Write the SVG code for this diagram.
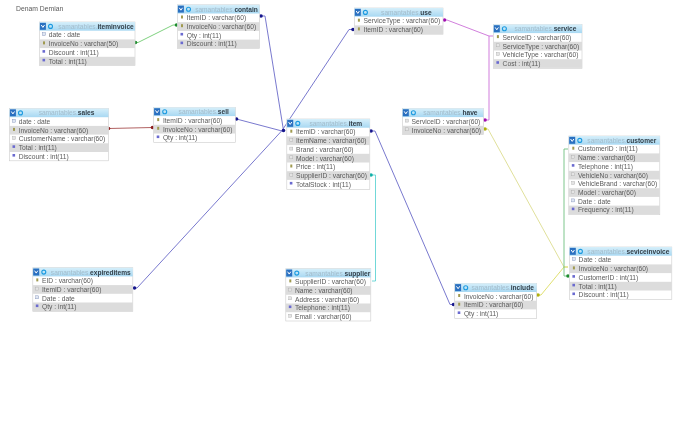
<svg xmlns="http://www.w3.org/2000/svg" xmlns:xlink="http://www.w3.org/1999/xlink" width="680" height="436" viewBox="0 0 680 436">
<style>
text{font-family:"Liberation Sans",Arial,sans-serif;font-size:6.7px;fill:#5a5a5a;transform:translateY(.4px)}
.box{fill:#fff;stroke:#ccc;stroke-width:.6}
.alt{fill:#dcdcdc}
.hd{fill:url(#hg)}
.tt{text-anchor:middle;font-size:6.6px;fill:#a3bccb;transform:translate(1px,.3px)}
.tt tspan{font-weight:bold;fill:#33404a}
.c{fill:none;stroke-width:.9}
.k{fill:#a09a50}.v{fill:#e4e4e4;stroke:#aaa;stroke-width:.4}.i{fill:#6a6ad0}.d{fill:#dfe6f2;stroke:#7a8bb5;stroke-width:.4}
.t1{fill:#2a6fc0}.t2{fill:none;stroke:#1e9be0;stroke-width:1.1}
</style>
<defs>
<linearGradient id="hg" x1="0" y1="0" x2="0" y2="1"><stop offset="0" stop-color="#d6effa"/><stop offset="1" stop-color="#a8d8f2"/></linearGradient>
<filter id="soft" x="0" y="0" width="680" height="436" filterUnits="userSpaceOnUse" primitiveUnits="userSpaceOnUse"><feGaussianBlur stdDeviation=".28"/></filter>
<marker id="mB" markerWidth="5" markerHeight="5" refX="2.500" refY="2.500" markerUnits="userSpaceOnUse"><circle cx="2.500" cy="2.500" r="1.800" fill="#16168c"/></marker>
<marker id="mG" markerWidth="5" markerHeight="5" refX="2.500" refY="2.500" markerUnits="userSpaceOnUse"><circle cx="2.500" cy="2.500" r="1.800" fill="#1e8c2e"/></marker>
<marker id="mR" markerWidth="5" markerHeight="5" refX="2.500" refY="2.500" markerUnits="userSpaceOnUse"><circle cx="2.500" cy="2.500" r="1.800" fill="#8c1e1e"/></marker>
<marker id="mP" markerWidth="5" markerHeight="5" refX="2.500" refY="2.500" markerUnits="userSpaceOnUse"><circle cx="2.500" cy="2.500" r="1.800" fill="#a010b0"/></marker>
<marker id="mY" markerWidth="5" markerHeight="5" refX="2.500" refY="2.500" markerUnits="userSpaceOnUse"><circle cx="2.500" cy="2.500" r="1.800" fill="#b0b010"/></marker>
<marker id="mC" markerWidth="5" markerHeight="5" refX="2.500" refY="2.500" markerUnits="userSpaceOnUse"><circle cx="2.500" cy="2.500" r="1.800" fill="#10b0a8"/></marker>
<g id="hi"><rect x=".4" y=".8" width="6" height="7" class="t1"/><path d="M1.800 3l1.600 2.400L5 3" fill="none" stroke="#fff" stroke-width="1"/><circle cx="11" cy="4.400" r="2" class="t2"/></g>
<rect id="ik" width="2" height="3" class="k"/>
<rect id="iv" width="3" height="3" class="v"/>
<rect id="ii" width="2.600" height="2.600" class="i"/>
<rect id="id" width="3" height="3" class="d"/>
</defs>
<g filter="url(#soft)">
<text x="16" y="10.600" style="font-size:6.800px">Denam Demian</text>
<g id="connectors">
<path class="c" stroke="#70cc70" marker-start="url(#mG)" marker-end="url(#mG)" d="M135.500 42.500H138L173 25H176.500"/>
<path class="c" stroke="#6a6ac8" marker-start="url(#mB)" d="M261 16H265L283.500 130.500H282"/>
<path class="c" stroke="#6a6ac8" marker-start="url(#mB)" d="M236.500 119L282 131"/>
<path class="c" stroke="#6a6ac8" marker-end="url(#mB)" d="M282 130.500L349 29.500H353"/>
<path class="c" stroke="#6a6ac8" marker-start="url(#mB)" marker-end="url(#mB)" d="M134.500 288H137L282 130.500H283.500"/>
<path class="c" stroke="#a85050" marker-start="url(#mR)" marker-end="url(#mR)" d="M108.500 128.500L152.500 127.500"/>
<path class="c" stroke="#cc70d8" marker-start="url(#mP)" d="M444.500 20H447L489 36H493"/>
<path class="c" stroke="#cc70d8" marker-start="url(#mP)" d="M485 120H489V36"/>
<path class="c" stroke="#dcdc90" marker-start="url(#mY)" d="M485 129H488L564 267H568"/>
<path class="c" stroke="#dcdc60" marker-start="url(#mY)" d="M538 295H541L564 267H568"/>
<path class="c" stroke="#70c080" marker-end="url(#mG)" d="M568 149H564V276H568"/>
<path class="c" stroke="#60d4d4" marker-start="url(#mC)" d="M371 175H375.500V281H372"/>
<path class="c" stroke="#6a6ac8" marker-start="url(#mB)" marker-end="url(#mB)" d="M371 131H375L450 304.500H453.500"/>
</g>

<g id="iteminvoice" transform="translate(39.500 22)">
<rect class="box" width="95.500" height="43.600"/><rect class="hd" width="95.500" height="8.700"/><use xlink:href="#hi"/>
<rect class="alt" y="17.400" width="95.500" height="8.700"/><rect class="alt" y="34.800" width="95.500" height="8.700"/>
<text class="tt" x="55.500" y="6.600">samantables.<tspan>iteminvoice</tspan></text>
<use xlink:href="#id" x="3" y="10.700"/><text x="9.200" y="15.100">date : date</text>
<use xlink:href="#ik" x="3.500" y="19.400"/><text x="9.200" y="23.800">InvoiceNo : varchar(50)</text>
<use xlink:href="#ii" x="3" y="28.100"/><text x="9.200" y="32.500">Discount : int(11)</text>
<use xlink:href="#ii" x="3" y="36.800"/><text x="9.200" y="41.200">Total : int(11)</text>
</g>

<g id="contain" transform="translate(177.500 4.800)">
<rect class="box" width="82" height="43.600"/><rect class="hd" width="82" height="8.700"/><use xlink:href="#hi"/>
<rect class="alt" y="17.400" width="82" height="8.700"/><rect class="alt" y="34.800" width="82" height="8.700"/>
<text class="tt" x="48" y="6.600">samantables.<tspan>contain</tspan></text>
<use xlink:href="#ik" x="3.500" y="10.700"/><text x="9.200" y="15.100">ItemID : varchar(60)</text>
<use xlink:href="#ik" x="3.500" y="19.400"/><text x="9.200" y="23.800">InvoiceNo : varchar(60)</text>
<use xlink:href="#ii" x="3" y="28.100"/><text x="9.200" y="32.500">Qty : int(11)</text>
<use xlink:href="#ii" x="3" y="36.800"/><text x="9.200" y="41.200">Discount : int(11)</text>
</g>

<g id="sales" transform="translate(9.500 108.500)">
<rect class="box" width="99" height="52.300"/><rect class="hd" width="99" height="8.700"/><use xlink:href="#hi"/>
<rect class="alt" y="17.400" width="99" height="8.700"/><rect class="alt" y="34.800" width="99" height="8.700"/>
<text class="tt" x="56" y="6.600">samantables.<tspan>sales</tspan></text>
<use xlink:href="#id" x="3" y="10.700"/><text x="9.200" y="15.100">date : date</text>
<use xlink:href="#ik" x="3.500" y="19.400"/><text x="9.200" y="23.800">InvoiceNo : varchar(60)</text>
<use xlink:href="#iv" x="3" y="28.100"/><text x="9.200" y="32.500">CustomerName : varchar(60)</text>
<use xlink:href="#ii" x="3" y="36.800"/><text x="9.200" y="41.200">Total : int(11)</text>
<use xlink:href="#ii" x="3" y="45.500"/><text x="9.200" y="49.900">Discount : int(11)</text>
</g>

<g id="sell" transform="translate(153.700 107.400)">
<rect class="box" width="81.600" height="35"/><rect class="hd" width="81.600" height="8.700"/><use xlink:href="#hi"/>
<rect class="alt" y="17.400" width="81.600" height="8.700"/>
<text class="tt" x="49" y="6.600">samantables.<tspan>sell</tspan></text>
<use xlink:href="#ik" x="3.500" y="10.700"/><text x="9.200" y="15.100">ItemID : varchar(60)</text>
<use xlink:href="#ik" x="3.500" y="19.400"/><text x="9.200" y="23.800">InvoiceNo : varchar(60)</text>
<use xlink:href="#ii" x="3" y="28.100"/><text x="9.200" y="32.500">Qty : int(11)</text>
</g>

<g id="use" transform="translate(354.400 8)">
<rect class="box" width="88.600" height="26.200"/><rect class="hd" width="88.600" height="8.700"/><use xlink:href="#hi"/>
<rect class="alt" y="17.400" width="88.600" height="8.700"/>
<text class="tt" x="51" y="6.600">samantables.<tspan>use</tspan></text>
<use xlink:href="#ik" x="3.500" y="10.700"/><text x="9.200" y="15.100">ServiceType : varchar(60)</text>
<use xlink:href="#ik" x="3.500" y="19.400"/><text x="9.200" y="23.800">ItemID : varchar(60)</text>
</g>

<g id="item" transform="translate(286.800 119)">
<rect class="box" width="83" height="70.300"/><rect class="hd" width="83" height="8.700"/><use xlink:href="#hi"/>
<rect class="alt" y="17.400" width="83" height="8.700"/><rect class="alt" y="34.800" width="83" height="8.700"/><rect class="alt" y="52.200" width="83" height="8.700"/>
<text class="tt" x="48" y="6.600">samantables.<tspan>item</tspan></text>
<use xlink:href="#ik" x="3.500" y="10.700"/><text x="9.200" y="15.100">ItemID : varchar(60)</text>
<use xlink:href="#iv" x="3" y="19.400"/><text x="9.200" y="23.800">ItemName : varchar(60)</text>
<use xlink:href="#iv" x="3" y="28.100"/><text x="9.200" y="32.500">Brand : varchar(60)</text>
<use xlink:href="#iv" x="3" y="36.800"/><text x="9.200" y="41.200">Model : varchar(60)</text>
<use xlink:href="#ik" x="3.500" y="45.500"/><text x="9.200" y="49.900">Price : int(11)</text>
<use xlink:href="#iv" x="3" y="54.200"/><text x="9.200" y="58.600">SupplierID : varchar(60)</text>
<use xlink:href="#ii" x="3" y="62.900"/><text x="9.200" y="67.300">TotalStock : int(11)</text>
</g>

<g id="have" transform="translate(402.400 108.400)">
<rect class="box" width="81" height="26"/><rect class="hd" width="81" height="8.700"/><use xlink:href="#hi"/>
<rect class="alt" y="17.400" width="81" height="8.700"/>
<text class="tt" x="47" y="6.600">samantables.<tspan>have</tspan></text>
<use xlink:href="#iv" x="3" y="10.700"/><text x="9.200" y="15.100">ServiceID : varchar(60)</text>
<use xlink:href="#iv" x="3" y="19.400"/><text x="9.200" y="23.800">InvoiceNo : varchar(60)</text>
</g>

<g id="service" transform="translate(493.400 24.400)">
<rect class="box" width="88.600" height="43.900"/><rect class="hd" width="88.600" height="8.700"/><use xlink:href="#hi"/>
<rect class="alt" y="17.400" width="88.600" height="8.700"/><rect class="alt" y="34.800" width="88.600" height="8.700"/>
<text class="tt" x="51" y="6.600">samantables.<tspan>service</tspan></text>
<use xlink:href="#ik" x="3.500" y="10.700"/><text x="9.200" y="15.100">ServiceID : varchar(60)</text>
<use xlink:href="#iv" x="3" y="19.400"/><text x="9.200" y="23.800">ServiceType : varchar(60)</text>
<use xlink:href="#iv" x="3" y="28.100"/><text x="9.200" y="32.500">VehicleType : varchar(60)</text>
<use xlink:href="#ii" x="3" y="36.800"/><text x="9.200" y="41.200">Cost : int(11)</text>
</g>

<g id="customer" transform="translate(568.800 136)">
<rect class="box" width="91" height="78.700"/><rect class="hd" width="91" height="8.700"/><use xlink:href="#hi"/>
<rect class="alt" y="17.400" width="91" height="8.700"/><rect class="alt" y="34.800" width="91" height="8.700"/><rect class="alt" y="52.200" width="91" height="8.700"/><rect class="alt" y="69.600" width="91" height="8.700"/>
<text class="tt" x="52" y="6.600">samantables.<tspan>customer</tspan></text>
<use xlink:href="#ik" x="3.500" y="10.700"/><text x="9.200" y="15.100">CustomerID : int(11)</text>
<use xlink:href="#iv" x="3" y="19.400"/><text x="9.200" y="23.800">Name : varchar(60)</text>
<use xlink:href="#ii" x="3" y="28.100"/><text x="9.200" y="32.500">Telephone : int(11)</text>
<use xlink:href="#iv" x="3" y="36.800"/><text x="9.200" y="41.200">VehicleNo : varchar(60)</text>
<use xlink:href="#iv" x="3" y="45.500"/><text x="9.200" y="49.900">VehicleBrand : varchar(60)</text>
<use xlink:href="#iv" x="3" y="54.200"/><text x="9.200" y="58.600">Model : varchar(60)</text>
<use xlink:href="#id" x="3" y="62.900"/><text x="9.200" y="67.300">Date : date</text>
<use xlink:href="#ii" x="3" y="71.600"/><text x="9.200" y="76">Frequency : int(11)</text>
</g>

<g id="seviceinvoice" transform="translate(569.400 247)">
<rect class="box" width="102.400" height="52.300"/><rect class="hd" width="102.400" height="8.700"/><use xlink:href="#hi"/>
<rect class="alt" y="17.400" width="102.400" height="8.700"/><rect class="alt" y="34.800" width="102.400" height="8.700"/>
<text class="tt" x="58" y="6.600">samantables.<tspan>seviceinvoice</tspan></text>
<use xlink:href="#id" x="3" y="10.700"/><text x="9.200" y="15.100">Date : date</text>
<use xlink:href="#ik" x="3.500" y="19.400"/><text x="9.200" y="23.800">InvoiceNo : varchar(60)</text>
<use xlink:href="#ii" x="3" y="28.100"/><text x="9.200" y="32.500">CustomerID : int(11)</text>
<use xlink:href="#ii" x="3" y="36.800"/><text x="9.200" y="41.200">Total : int(11)</text>
<use xlink:href="#ii" x="3" y="45.500"/><text x="9.200" y="49.900">Discount : int(11)</text>
</g>

<g id="include" transform="translate(454.700 283.300)">
<rect class="box" width="82" height="35"/><rect class="hd" width="82" height="8.700"/><use xlink:href="#hi"/>
<rect class="alt" y="17.400" width="82" height="8.700"/>
<text class="tt" x="47" y="6.600">samantables.<tspan>include</tspan></text>
<use xlink:href="#ik" x="3.500" y="10.700"/><text x="9.200" y="15.100">InvoiceNo : varchar(60)</text>
<use xlink:href="#ik" x="3.500" y="19.400"/><text x="9.200" y="23.800">ItemID : varchar(60)</text>
<use xlink:href="#ii" x="3" y="28.100"/><text x="9.200" y="32.500">Qty : int(11)</text>
</g>

<g id="expireditems" transform="translate(32.800 267.700)">
<rect class="box" width="100" height="43.600"/><rect class="hd" width="100" height="8.700"/><use xlink:href="#hi"/>
<rect class="alt" y="17.400" width="100" height="8.700"/><rect class="alt" y="34.800" width="100" height="8.700"/>
<text class="tt" x="57" y="6.600">samantables.<tspan>expireditems</tspan></text>
<use xlink:href="#ik" x="3.500" y="10.700"/><text x="9.200" y="15.100">EID : varchar(60)</text>
<use xlink:href="#iv" x="3" y="19.400"/><text x="9.200" y="23.800">ItemID : varchar(60)</text>
<use xlink:href="#id" x="3" y="28.100"/><text x="9.200" y="32.500">Date : date</text>
<use xlink:href="#ii" x="3" y="36.800"/><text x="9.200" y="41.200">Qty : int(11)</text>
</g>

<g id="supplier" transform="translate(285.800 268.700)">
<rect class="box" width="85" height="52.300"/><rect class="hd" width="85" height="8.700"/><use xlink:href="#hi"/>
<rect class="alt" y="17.400" width="85" height="8.700"/><rect class="alt" y="34.800" width="85" height="8.700"/>
<text class="tt" x="51" y="6.600">samantables.<tspan>supplier</tspan></text>
<use xlink:href="#ik" x="3.500" y="10.700"/><text x="9.200" y="15.100">SupplierID : varchar(60)</text>
<use xlink:href="#iv" x="3" y="19.400"/><text x="9.200" y="23.800">Name : varchar(60)</text>
<use xlink:href="#iv" x="3" y="28.100"/><text x="9.200" y="32.500">Address : varchar(60)</text>
<use xlink:href="#ii" x="3" y="36.800"/><text x="9.200" y="41.200">Telephone : int(11)</text>
<use xlink:href="#iv" x="3" y="45.500"/><text x="9.200" y="49.900">Email : varchar(60)</text>
</g>
</g>
</svg>
